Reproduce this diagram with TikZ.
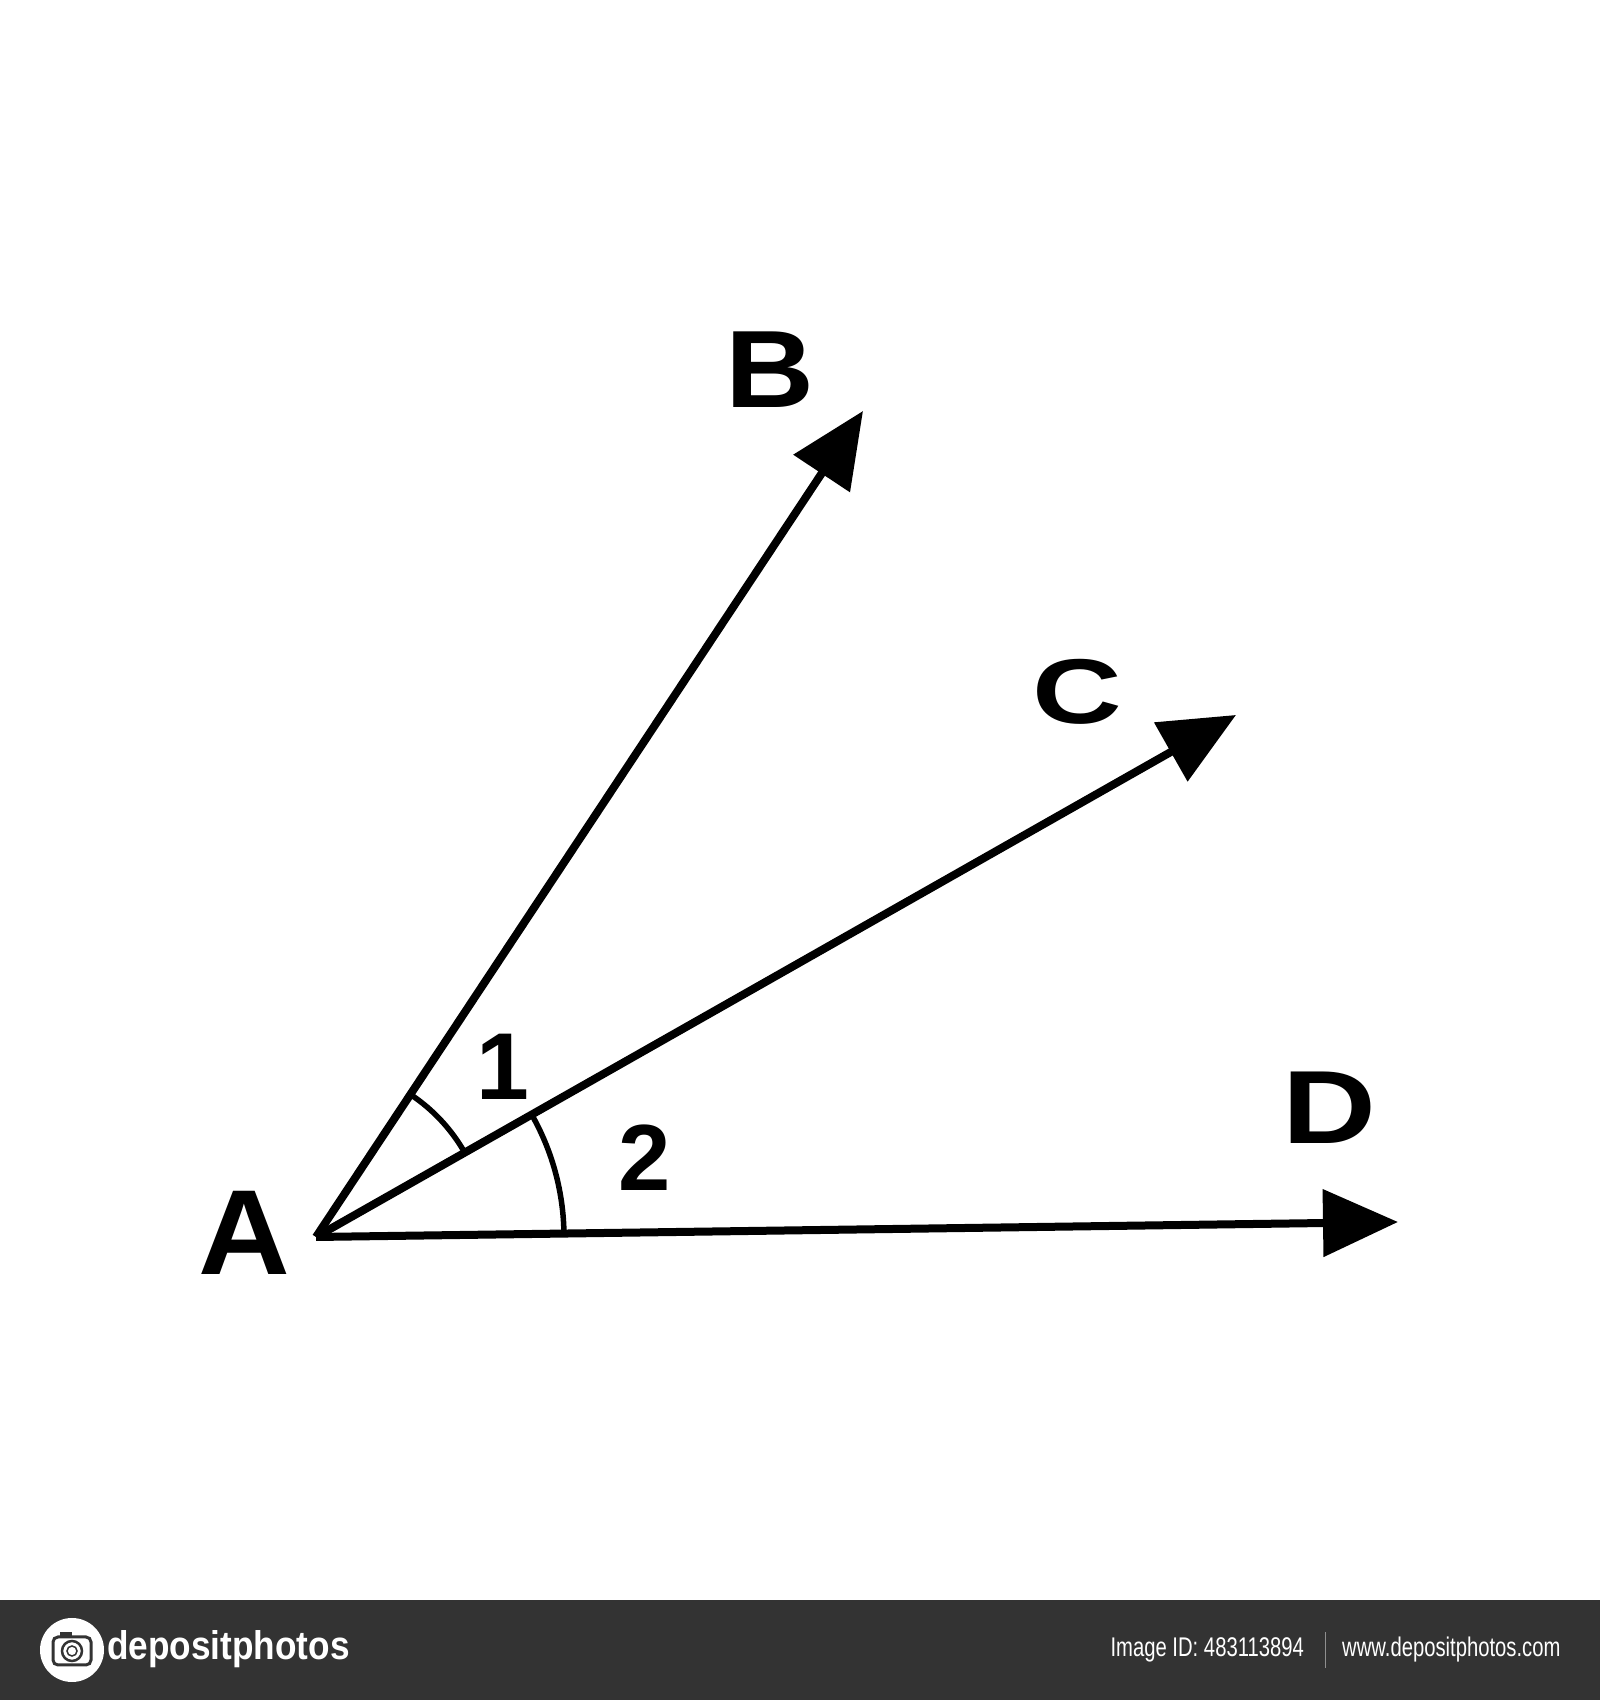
\documentclass[tikz,border=0pt]{standalone}
\usepackage{fontspec}
\setmainfont{Liberation Sans}
\usetikzlibrary{arrows.meta}
\definecolor{barcol}{HTML}{333333}
\tikzset{
  ray/.style={line width=8pt, -{Triangle[length=75pt,width=66pt]}},
  anglearc/.style={line width=5.5pt},
  ptlabel/.style={font=\bfseries, inner sep=0pt},
  barText/.style={text=white, inner sep=0pt, xscale=0.75, font=\fontsize{27}{30}\selectfont}
}
\begin{document}
\begin{tikzpicture}[x=1pt,y=1pt]
\useasboundingbox (0,0) rectangle (1600,1700);
\fill[white] (0,0) rectangle (1600,1700);
% points
\coordinate (A) at (316,463);
\coordinate (B) at (863,1289);
\coordinate (C) at (1236,985);
\coordinate (D) at (1398,478);
% rays
\draw[ray] (A) -- (B);
\draw[ray] (A) -- (C);
\draw[ray] (A) -- (D);
% angle arcs
\draw[anglearc] (A) ++(29.6:171) arc[start angle=29.6, end angle=56.5, radius=171];
\draw[anglearc] (A) ++(0.8:248) arc[start angle=0.8, end angle=29.6, radius=248];
% labels
\node[ptlabel, xscale=1.05, font=\bfseries\fontsize{121}{121}\selectfont] (lA) at (244,467) {A};
\node[ptlabel, xscale=1.12, font=\bfseries\fontsize{110}{110}\selectfont] (lB) at (770,1330) {B};
\node[ptlabel, xscale=1.35, font=\bfseries\fontsize{92}{92}\selectfont] (lC) at (1077,1008) {C};
\node[ptlabel, xscale=1.25, font=\bfseries\fontsize{104}{104}\selectfont] (lD) at (1329,592) {D};
\node[ptlabel, font=\bfseries\fontsize{95}{95}\selectfont] (l1) at (503,633) {1};
\node[ptlabel, font=\bfseries\fontsize{94}{94}\selectfont] (l2) at (645,542) {2};
% bottom bar
\fill[barcol] (0,0) rectangle (1600,100);
\fill[white] (72,50) circle[radius=32];
\draw[barcol, line width=3pt, rounded corners=5pt] (53,35) rectangle (91,63);
\fill[barcol] (60,63) rectangle (72,68);
\draw[barcol, line width=2.5pt] (72,49) circle[radius=10];
\draw[barcol, line width=1.5pt] (72,49) circle[radius=5];
\node[text=white, anchor=west, inner sep=0pt, xscale=0.88, font=\bfseries\fontsize{40}{40}\selectfont] (logo) at (107,51) {depositphotos};
\node[barText, anchor=east] (imgid) at (1304,50) {Image ID: 483113894};
\draw[white!45!barcol, line width=1pt] (1325,32) -- (1325,68);
\node[barText, anchor=west] (url) at (1342,50) {www.depositphotos.com};
\end{tikzpicture}
\end{document}
